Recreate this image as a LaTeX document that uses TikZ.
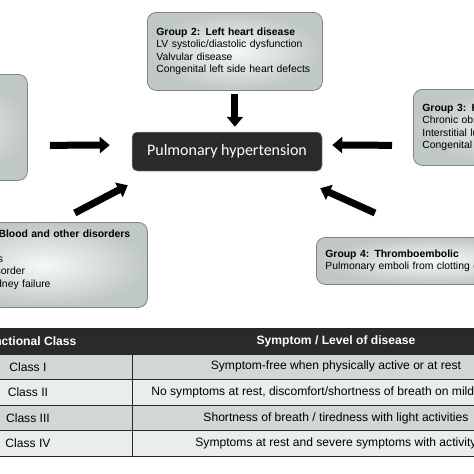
\documentclass[tikz,border=0pt]{standalone}
\usepackage{fontspec}
\setmainfont{Liberation Sans}
\newfontfamily\phfont{Carlito}
\usetikzlibrary{arrows.meta}
\definecolor{boxline}{RGB}{125,132,132}
\definecolor{boxin}{RGB}{246,248,248}
\definecolor{boxout}{RGB}{192,199,199}
\definecolor{phfill}{RGB}{42,42,45}
\definecolor{rowdark}{RGB}{210,214,214}
\definecolor{rowlight}{RGB}{234,237,237}
\def\bx{\fontsize{10.4}{12.4}\selectfont}
\def\tb{\fontsize{12.1}{14}\selectfont}
\def\rh{25.6}

\begin{document}
\begin{tikzpicture}[x=1pt, y=-1pt,
    grp/.style={draw=boxline, line width=.8pt, rounded corners=9pt, inner color=boxin, outer color=boxout,
        align=left, inner xsep=9pt, inner ysep=0pt, font=\bx, anchor=north west},
    bigarrow/.style={line width=7pt, -{Triangle[length=10pt,width=16pt]}},
    cell/.style={draw=black!85, line width=.9pt, minimum height=\rh pt, inner sep=0pt, font=\tb, anchor=north west}]
    \useasboundingbox (0,0) rectangle (474,474);

    \node[grp, text width=159, minimum height=106] (g1) at (-150,74) {};
    \node[grp, text width=157, minimum height=78] (g2) at (147,12)
        {\textbf{Group 2: Left heart disease}\\LV systolic/diastolic dysfunction\\Valvular disease\\Congenital left side heart defects};
    \node[grp, text width=200, minimum height=76] (g3) at (413,89)
        {\textbf{Group 3: Hypoxic lung disease}\\Chronic obstructive pulmonary disease\\Interstitial lung disease\\Congenital lung defects};
    \node[grp, text width=220, minimum height=47] (g4) at (316,237)
        {\textbf{Group 4: Thromboembolic}\\Pulmonary emboli from clotting disorders};
    \node[grp, text width=189, minimum height=85] (g5) at (-60,222)
        {\textbf{Group 5: Blood and other disorders}\\[12.4pt]Sarcoidosis\\Thyroid disorder\\Chronic kidney failure\\\mbox{}};

    \node[fill=phfill, draw=gray!70, line width=.5pt, rounded corners=5pt, minimum width=190, minimum height=39,
        text=white, font=\phfont\fontsize{16}{18}\selectfont] (ph) at (227,151.5) {Pulmonary hypertension};

    \draw[bigarrow, shorten <=3pt, shorten >=5pt] (g2.south) -- (g2.south |- ph.north);
    \draw[bigarrow, shorten <=22pt, shorten >=22pt] ([yshift=-18pt]g1.east) -- ([yshift=6.5pt]ph.west);
    \draw[bigarrow, shorten <=21pt, shorten >=10pt] ([yshift=-18pt]g3.west) -- ([yshift=6.5pt]ph.east);
    \draw[bigarrow] ([xshift=-73pt,yshift=9pt]g5.north east) -- ([xshift=-4pt,yshift=-14pt]ph.south west);
    \draw[bigarrow] ([xshift=59pt,yshift=24pt]g4.north west) -- ([xshift=-2pt,yshift=-17pt]ph.south east);

    % table
    \node[cell, fill=phfill, text=white, minimum width=209] (h1) at (-77,328) {\textbf{Functional Class}};
    \node[cell, fill=phfill, text=white, minimum width=407] (h2) at (132,328) {\textbf{Symptom / Level of disease}};
    \foreach \c/\s/\f [count=\i] in {Class I/Symptom-free when physically active or at rest/rowdark,
        Class II/{No symptoms at rest, discomfort/shortness of breath on mild exertion}/rowlight,
        Class III/{Shortness of breath / tiredness with light activities}/rowdark,
        Class IV/Symptoms at rest and severe symptoms with activity/rowlight}{
        \node[cell, fill=\f, minimum width=209] (c\i) at (-77,{328+\i*\rh}) {\c};
        \node[cell, fill=\f, minimum width=407] (s\i) at (132,{328+\i*\rh}) {\s};
    }
\end{tikzpicture}
\end{document}
